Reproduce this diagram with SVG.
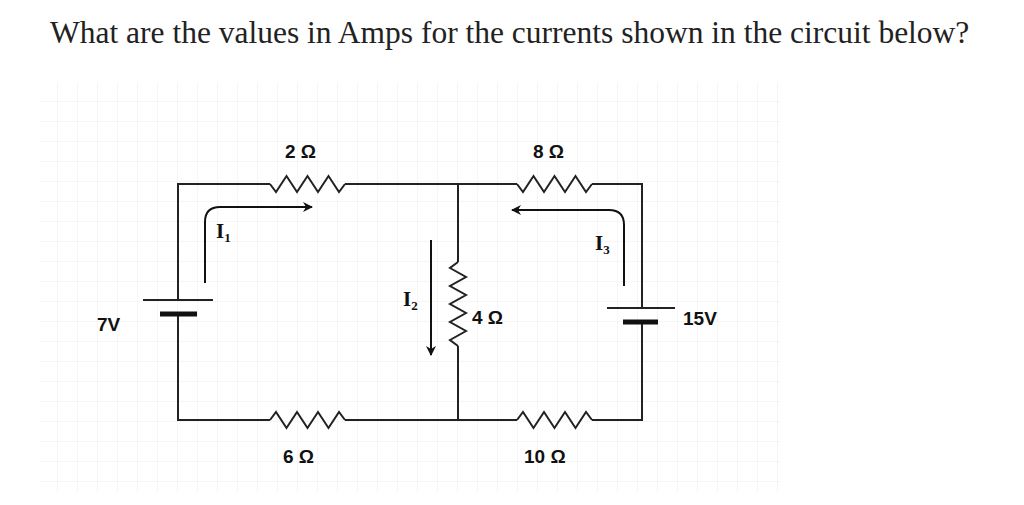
<svg xmlns="http://www.w3.org/2000/svg" width="1024" height="505" viewBox="0 0 1024 505">
<defs>
<pattern id="grid" width="20" height="20" patternUnits="userSpaceOnUse" x="38" y="82">
<path d="M20 0V20M0 20H20" fill="none" stroke="#ececec" stroke-width="1"/>
</pattern>
<marker id="ah" viewBox="0 0 10 10" refX="9" refY="5" markerWidth="5" markerHeight="5" orient="auto"><path d="M0 0L10 5L0 10L3 5Z" fill="#111"/></marker>
</defs>
<style>
.w{fill:none;stroke:#222;stroke-width:2}
.a{fill:none;stroke:#111;stroke-width:2;marker-end:url(#ah)}
.l{font-family:"Liberation Sans",Arial,sans-serif;font-weight:bold;font-size:19px;fill:#111}
.i{font-family:"Liberation Serif",serif;font-weight:bold;font-size:21px;fill:#111}
.s{font-size:13px}
</style>
<rect width="1024" height="505" fill="#fff"/>
<rect x="40" y="82" width="740" height="410" fill="url(#grid)"/>
<text x="50" y="43" font-family="Liberation Serif,serif" font-size="31.5" fill="#222">What are the values in Amps for the currents shown in the circuit below?</text>
<g id="connectors">
<path class="w" d="M178 300V184H270M345 184H458H517M592 184H642V308"/>
<path class="w" d="M178 314V420H270M345 420H458H517M592 420H642V322"/>
<path class="w" d="M458 184V262M458 346V420"/>
</g>
<g id="r2"><path class="w" d="M270 184l6 -8l10.5 16l10.5 -16l10.5 16l10.5 -16l10.5 16l10.5 -16l6 8" transform="translate(0,0) scale(1,-1) translate(0,-368)"/><text class="l" x="285" y="158">2 Ω</text></g>
<g id="r8"><path class="w" d="M517 184l6 8l10.5 -16l10.5 16l10.5 -16l10.5 16l10.5 -16l10.5 16l6 -8"/><text class="l" x="533" y="158">8 Ω</text></g>
<g id="r6"><path class="w" d="M270 420l6 -8l10.5 16l10.5 -16l10.5 16l10.5 -16l10.5 16l10.5 -16l6 8"/><text class="l" x="283" y="463">6 Ω</text></g>
<g id="r10"><path class="w" d="M517 420l6 -8l10.5 16l10.5 -16l10.5 16l10.5 -16l10.5 16l10.5 -16l6 8"/><text class="l" x="524" y="463">10 Ω</text></g>
<g id="r4"><path class="w" d="M458 262l-8 6l16 9l-16 9l16 9l-16 9l16 9l-16 9l16 9l-16 9l8 6"/><text class="l" x="472" y="324">4 Ω</text></g>
<g id="b7"><path class="w" d="M143 300H213"/><path d="M160 314H197" stroke="#111" stroke-width="5"/><text class="l" x="97" y="331">7V</text></g>
<g id="b15"><path class="w" d="M607 308H675"/><path d="M623 322H658" stroke="#111" stroke-width="5"/><text class="l" x="683" y="325">15V</text></g>
<g id="i1"><path class="a" d="M205 283V222Q205 207 220 207H312"/><text class="i" x="216" y="238">I<tspan class="s" dy="4">1</tspan></text></g>
<g id="i2"><path class="a" d="M431 240V355"/><text class="i" x="403" y="306">I<tspan class="s" dy="4">2</tspan></text></g>
<g id="i3"><path class="a" d="M624 286V225Q624 210 609 210H512"/><text class="i" x="595" y="250">I<tspan class="s" dy="4">3</tspan></text></g>
</svg>
